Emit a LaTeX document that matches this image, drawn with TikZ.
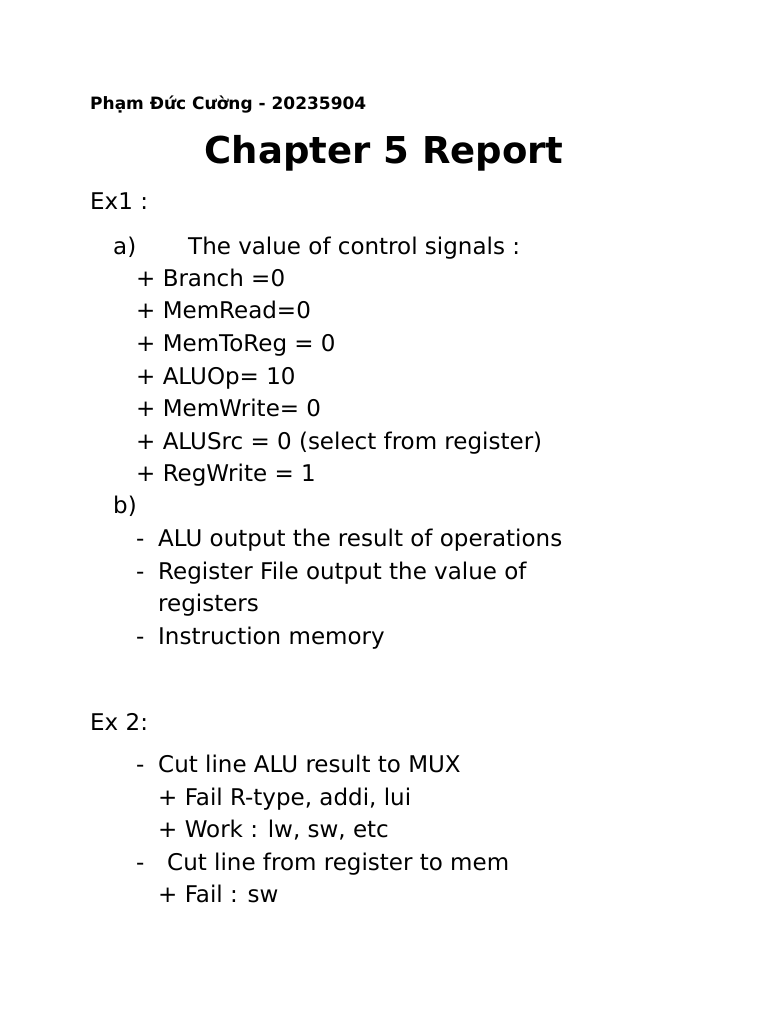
\documentclass[tikz,border=0pt]{standalone}
\usepackage{fontspec}
\setmainfont{DejaVu Sans}
\begin{document}
\begin{tikzpicture}[x=1pt,y=-1pt,
  t/.style={anchor=base west,inner sep=0pt,font=\fontsize{23}{28}\selectfont}]
\useasboundingbox (0,0) rectangle (768,1024);
\node[anchor=base west,inner sep=0pt,font=\fontsize{17}{20}\selectfont\bfseries] (h) at (90,110) {Phạm Đức Cường - 20235904};
\node[anchor=base,inner sep=0pt,font=\fontsize{37}{44}\selectfont\bfseries] (ti) at (384,164) {Chapter 5 Report};
\node[t] (e1) at (90,210) {Ex1 :};
\node[t] (a) at (113,254) {a)};
\node[t] (av) at (188,254) {The value of control signals :};
\node[t] (l1) at (136,286) {+ Branch =0};
\node[t] (l2) at (136,318) {+ MemRead=0};
\node[t] (l3) at (136,351) {+ MemToReg = 0};
\node[t] (l4) at (136,384) {+ ALUOp= 10};
\node[t] (l5) at (136,416) {+ MemWrite= 0};
\node[t] (l6) at (136,449) {+ ALUSrc = 0 (select from register)};
\node[t] (l7) at (136,481) {+ RegWrite = 1};
\node[t] (b) at (113,513) {b)};
\node[t] (d1) at (136,546) {-};
\node[t] (b1) at (158,546) {ALU output the result of operations};
\node[t] (d2) at (136,579) {-};
\node[t] (b2) at (158,579) {Register File output the value of};
\node[t] (b2b) at (158,611) {registers};
\node[t] (d3) at (136,644) {-};
\node[t] (b3) at (158,644) {Instruction memory};
\node[t] (e2) at (90,730) {Ex 2:};
\node[t] (d4) at (136,772) {-};
\node[t] (c1) at (158,772) {Cut line ALU result to MUX};
\node[t] (c2) at (158,805) {+ Fail R-type, addi, lui};
\node[t] (c3) at (158,837) {+ Work : lw, sw, etc};
\node[t] (d5) at (136,870) {-};
\node[t] (c4) at (167,870) {Cut line from register to mem};
\node[t] (c5) at (158,902) {+ Fail : sw};
\end{tikzpicture}
\end{document}
